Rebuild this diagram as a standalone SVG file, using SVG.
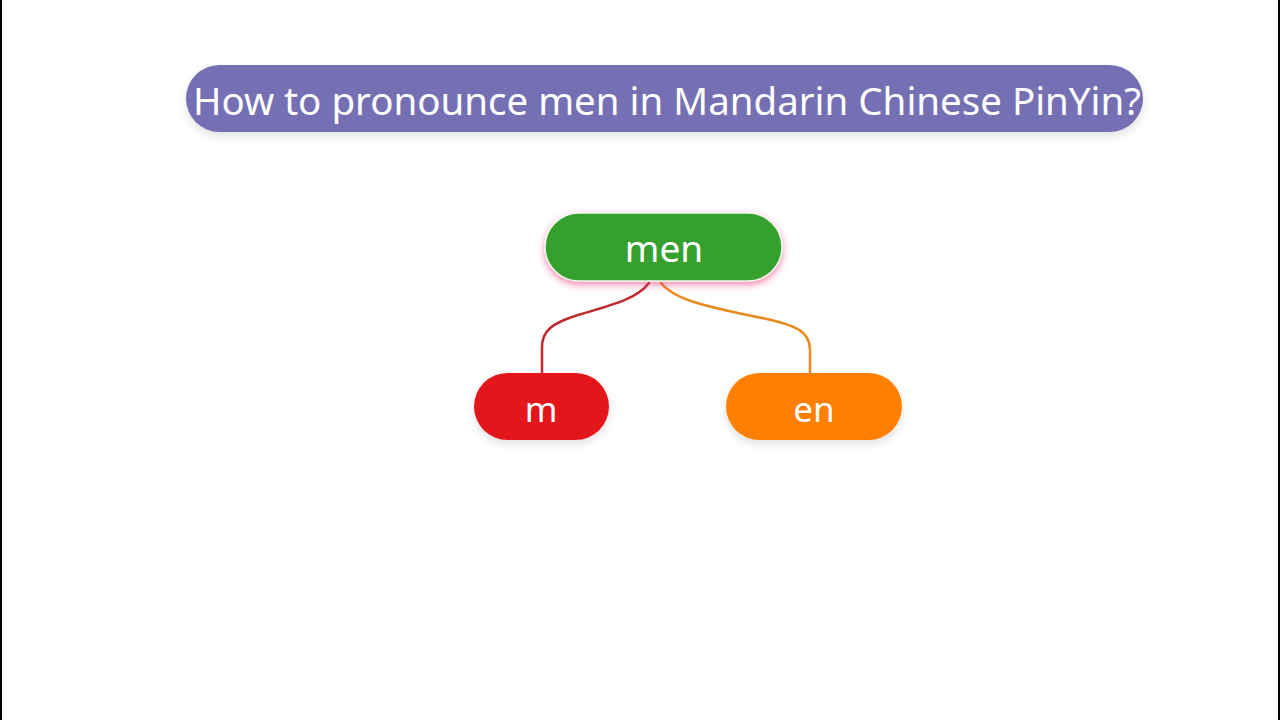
<svg xmlns="http://www.w3.org/2000/svg" width="1280" height="720" viewBox="0 0 1280 720">
<defs>
<style>
.lbl{font-family:"Noto Sans","Open Sans","Liberation Sans",sans-serif;fill:#ffffff;text-anchor:middle}
.conn{fill:none;stroke-width:2.5;stroke-linecap:round}
</style>
<filter id="sh" x="-20%" y="-30%" width="140%" height="170%">
<feDropShadow dx="0" dy="4" stdDeviation="4" flood-color="#000000" flood-opacity="0.12"/>
</filter>
<filter id="glow" x="-20%" y="-30%" width="140%" height="170%">
<feDropShadow dx="0" dy="3" stdDeviation="3.5" flood-color="#e8357a" flood-opacity="0.6"/>
</filter>
</defs>
<rect x="0" y="0" width="1280" height="720" fill="#ffffff"/>
<rect x="0" y="0" width="2" height="720" fill="#000000"/>
<rect x="1278" y="0" width="2" height="720" fill="#000000"/>
<g id="title">
<rect x="186" y="65" width="957" height="67" rx="33.5" fill="#7470b3" filter="url(#sh)"/>
<text class="lbl" x="667" y="115" font-size="38.5" textLength="948" lengthAdjust="spacingAndGlyphs">How to pronounce men in Mandarin Chinese PinYin?</text>
</g>
<g id="connectors">
<path class="conn" stroke="#c0282c" d="M649,283 C637,299 612,305 578,315 C552,323 542,331 542,347 L542,372"/>
<path class="conn" stroke="#ea8a1c" d="M661,283 C674,299 702,306 762,318 C800,326 810,333 810,350 L810,372"/>
</g>
<g id="node-men">
<rect x="545" y="213" width="237" height="68" rx="34" fill="#34a02f" stroke="#f3f7ee" stroke-width="1.5" filter="url(#glow)"/>
<text class="lbl" x="664" y="262" font-size="37">men</text>
</g>
<g id="node-m">
<rect x="474" y="373" width="135" height="67" rx="33.5" fill="#e3191c" filter="url(#sh)"/>
<text class="lbl" x="541" y="422" font-size="35">m</text>
</g>
<g id="node-en">
<rect x="726" y="373" width="176" height="67" rx="33.5" fill="#ff8000" filter="url(#sh)"/>
<text class="lbl" x="814" y="422" font-size="35">en</text>
</g>
</svg>
